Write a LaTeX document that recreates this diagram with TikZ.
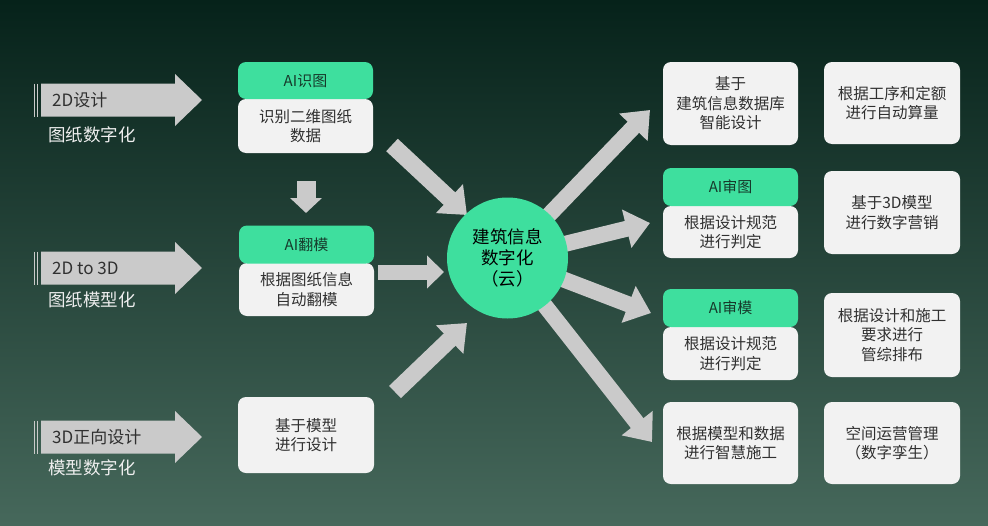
\documentclass[tikz,border=0pt]{standalone}
\usepackage{fontspec}
\newfontfamily\cjk{Noto Sans CJK SC}
\usetikzlibrary{arrows.meta}
\definecolor{bgtop}{HTML}{06221A}
\definecolor{bgmid}{HTML}{123428}
\definecolor{bgbot}{HTML}{46685B}
\definecolor{mint}{HTML}{3EDF9E}
\definecolor{boxw}{HTML}{F2F2F2}
\definecolor{txtc}{HTML}{303030}
\definecolor{hdrc}{HTML}{163A2B}
\definecolor{arrc}{HTML}{CACACA}
\definecolor{lblc}{HTML}{EEEEEE}
\pgfdeclarelayer{bglayer}
\pgfdeclarelayer{arrlayer}
\pgfsetlayers{bglayer,arrlayer,main}
\newcommand\bigarrowshape[1]{%
  \fill[arrc] (41,{#1-16.5}) -- (175,{#1-16.5}) -- (175,{#1-26}) -- (202,{#1}) -- (175,{#1+26}) -- (175,{#1+16.5}) -- (41,{#1+16.5}) -- cycle;
  \draw[arrc, line width=1.3pt] (34.5,{#1-16.5}) -- (34.5,{#1+16.5});
  \draw[arrc, line width=1.3pt] (37.8,{#1-16.5}) -- (37.8,{#1+16.5});
}
\begin{document}
\begin{tikzpicture}[x=1pt,y=-1pt,
  every node/.style={font=\cjk},
  wbox/.style={fill=boxw, rounded corners=8pt, minimum width=135pt, inner sep=0pt, align=center, text=txtc, font=\cjk\fontsize{15.5}{19.5}\selectfont},
  gbox/.style={wbox, fill=mint, text=hdrc, font=\cjk\fontsize{15}{18}\selectfont},
  fat/.style={draw=arrc, line width=16pt, -{Triangle[length=24pt,width=38pt]}},
  lbl/.style={anchor=west, text=lblc, inner sep=0pt, font=\cjk\fontsize{17.5}{20}\selectfont},
  alb/.style={anchor=west, text=txtc, inner sep=0pt, font=\cjk\fontsize{17}{20}\selectfont}]
\useasboundingbox (0,0) rectangle (988,525);
\begin{pgfonlayer}{bglayer}
\shade[top color=bgtop, middle color=bgmid, bottom color=bgbot] (0,0) rectangle (988,525);
\end{pgfonlayer}

% left big arrows
\bigarrowshape{100}
\bigarrowshape{268}
\bigarrowshape{437}
\node[alb] (a1) at (52,100) {2D设计};
\node[lbl] (a1l) at (48,135) {图纸数字化};
\node[alb] (a2) at (52,268) {2D to 3D};
\node[lbl] (a2l) at (48,300) {图纸模型化};
\node[alb] (a3) at (52,437) {3D正向设计};
\node[lbl] (a3l) at (48,468) {模型数字化};

% left column boxes
\node[wbox, minimum height=54pt] (l1b) at (305.5,126) {识别二维图纸\\数据};
\node[gbox, minimum height=37pt] (l1h) at (305.5,80.5) {AI识图};
\node[wbox, minimum height=53pt] (l2b) at (306.5,289.5) {根据图纸信息\\自动翻模};
\node[gbox, minimum height=38pt] (l2h) at (306.5,244.5) {AI翻模};
\node[wbox, minimum width=136pt, minimum height=76pt] (l3) at (306,435) {基于模型\\进行设计};

% centre circle
\node[circle, fill=mint, minimum size=121pt, inner sep=0pt, align=center, text=black,
      font=\cjk\fontsize{17.5}{21}\selectfont] (circ) at (507.5,258) {建筑信息\\数字化\\（云）};

% right column A
\node[wbox, minimum height=83pt] (r1) at (730.5,103.5) {基于\\建筑信息数据库\\智能设计};
\node[wbox, minimum height=52pt] (r2b) at (730.5,232) {根据设计规范\\进行判定};
\node[gbox, minimum height=38pt] (r2h) at (730.5,187) {AI审图};
\node[wbox, minimum height=53pt] (r3b) at (730.5,353.5) {根据设计规范\\进行判定};
\node[gbox, minimum height=38pt] (r3h) at (730.5,308) {AI审模};
\node[wbox, minimum height=82pt] (r4) at (730.5,443) {根据模型和数据\\进行智慧施工};

% right column B
\node[wbox, minimum width=136pt, minimum height=82pt] (s1) at (892,103) {根据工序和定额\\进行自动算量};
\node[wbox, minimum width=136pt, minimum height=83pt] (s2) at (892,212.5) {基于3D模型\\进行数字营销};
\node[wbox, minimum width=136pt, minimum height=84pt] (s3) at (892,335) {根据设计和施工\\要求进行\\管综排布};
\node[wbox, minimum width=136pt, minimum height=82pt] (s4) at (892,443) {空间运营管理\\（数字孪生）};

% connector coordinates
\coordinate (d1) at (306,181);
\coordinate (d2) at (306,213);
\coordinate (i1s) at (392,145);
\coordinate (i1e) at (467,215);
\coordinate (i2s) at (378,272);
\coordinate (i2e) at (444,272);
\coordinate (i3s) at (395,392);
\coordinate (i3e) at (467,323);
\coordinate (o1) at (650,110);
\coordinate (o2) at (650,223);
\coordinate (o3) at (651,313);
\coordinate (o4) at (652,442);

\begin{pgfonlayer}{arrlayer}
\draw[draw=arrc, line width=19pt, -{Triangle[length=15pt,width=31pt]}] (d1) -- (d2);
\draw[fat, line width=17pt] (i1s) -- (i1e);
\draw[draw=arrc, line width=15pt, -{Triangle[length=17pt,width=32pt]}] (i2s) -- (i2e);
\draw[fat, line width=17pt] (i3s) -- (i3e);
\draw[fat] (circ.center) -- (o1);
\draw[fat] (circ.center) -- (o2);
\draw[fat] (circ.center) -- (o3);
\draw[fat] (circ.center) -- (o4);
\end{pgfonlayer}
\end{tikzpicture}
\end{document}
